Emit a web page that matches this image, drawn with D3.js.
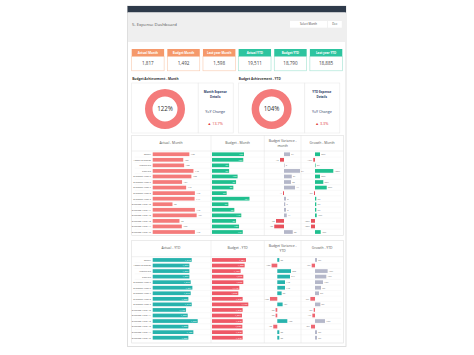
<!DOCTYPE html>
<html><head><meta charset="utf-8">
<script src="https://cdn.jsdelivr.net/npm/d3@7/dist/d3.min.js"></script>
<style>body{margin:0;background:#fff}svg{display:block;font-family:'Open Sans',sans-serif}</style>
</head><body><svg id="c" width="474" height="355"></svg>
<script>
const categories = ["Salary","Home Expense","Marketing","Renting","Expense Item 5","Expense Item 6","Expense Item 7","Expense Item 8","Expense Item 9","Expense Item 10","Expense Item 11","Expense Item 12","Expense Item 13","Expense Item 14","Expense Item 15"];
const cardLabels = ["Actual Month","Budget Month","Last year Month","Actual YTD","Budget YTD","Last year YTD"];
const cardValues = [1817,1492,1598,19511,18790,18885];
const actualMonth = [126,105,108,140,133,101,115,145,144,68,145,151,92,100,145];
const budgetMonth = [129,126,69,69,103,97,86,59,151,66,90,118,97,109,124];
const varianceMonth = [24,-16,2,64,31,28,44,-4,8,5,8,11,-32,-39,35];
const growthMonth = [35,-12,2,128,35,58,82,-7,9,9,9,12,-28,-28,40];
const actualYTD = [1348,1267,1267,1267,1313,1371,1313,1232,1348,1152,1209,1555,1232,1405,1232];
const budgetYTD = [1384,1330,1167,1276,1276,1113,1072,1248,1479,1248,1221,1248,1235,1248,1248];
const varianceYTD = [38,-108,260,241,146,146,82,-139,101,-32,-32,190,-76,38,38];
const growthYTD = [3,-5,19,17,12,9,6,-7,8,-2,-4,15,-6,3,3];

const svg = d3.select("#c");
const fmt = d3.format(",");

// outer frame
svg.append("rect").attr("x",127.5).attr("y",6).attr("width",218.5).attr("height",340.5).attr("fill","#fff").attr("stroke","#d6d6d6").attr("stroke-width",0.8);
svg.append("rect").attr("x",127.5).attr("y",6).attr("width",218.5).attr("height",6.5).attr("fill","#2e3a4a");
svg.append("rect").attr("x",128).attr("y",12.5).attr("width",217.5).attr("height",29.5).attr("fill","#efefef");
svg.append("text").attr("x",132).attr("y",25.8).attr("font-size",4.3).attr("fill","#555").text("5. Expense Dashboard");
svg.append("rect").attr("x",290).attr("y",21).attr("width",37).attr("height",6.7).attr("fill","#fff");
svg.append("rect").attr("x",327.8).attr("y",21).attr("width",14).attr("height",6.7).attr("fill","#fff");
svg.append("text").attr("x",308.5).attr("y",25.4).attr("font-size",2.8).attr("text-anchor","middle").attr("fill","#444").text("Select Month");
svg.append("text").attr("x",334.8).attr("y",25.4).attr("font-size",2.8).attr("text-anchor","middle").attr("fill","#444").text("Dec");

// KPI cards
const cardX = d3.scaleBand().domain(cardLabels).range([131.7, 342.3]).paddingInner(0.09);
cardLabels.forEach((lab,i)=>{
  const x = cardX(lab), w = cardX.bandwidth();
  const head = i<3 ? "#f5996b" : "#2dc49f";
  const edge = i<3 ? "#f9c9ad" : "#9fe2d0";
  svg.append("rect").attr("x",x).attr("y",56.3).attr("width",w).attr("height",14.5).attr("fill","#fff").attr("stroke",edge).attr("stroke-width",0.6);
  svg.append("rect").attr("x",x).attr("y",49).attr("width",w).attr("height",7.3).attr("fill",head);
  svg.append("text").attr("x",x+w/2).attr("y",53.8).attr("font-size",3).attr("font-weight","bold").attr("text-anchor","middle").attr("fill","#fff").text(lab);
  svg.append("text").attr("x",x+w/2).attr("y",65.3).attr("font-size",4.6).attr("text-anchor","middle").attr("fill","#444").text(fmt(cardValues[i]));
});

// Donuts
const donuts = [
  {title:"Budget Achievement - Month", x:131.7, det:["Month Expense","Details"], a:cardValues[0], b:cardValues[1], ly:cardValues[2]},
  {title:"Budget Achievement - YTD", x:238.3, det:["YTD Expense","Details"], a:cardValues[3], b:cardValues[4], ly:cardValues[5]}
];
const arc = d3.arc().innerRadius(12.5).outerRadius(20);
const pie = d3.pie().sort(null);
donuts.forEach(d=>{
  svg.append("text").attr("x",d.x+0.5).attr("y",80).attr("font-size",3.2).attr("font-weight","bold").attr("fill","#333").text(d.title);
  svg.append("rect").attr("x",d.x).attr("y",83).attr("width",66.5).attr("height",50).attr("fill","#fff").attr("stroke","#eaeaea").attr("stroke-width",0.6);
  svg.append("rect").attr("x",d.x+66.5).attr("y",83).attr("width",35).attr("height",50).attr("fill","#fff").attr("stroke","#eaeaea").attr("stroke-width",0.6);
  const ach = d.a/d.b;
  const g = svg.append("g").attr("transform",`translate(${d.x+33.3},109)`);
  g.selectAll("path").data(pie([Math.min(ach,1), 1-Math.min(ach,1)])).join("path")
    .attr("d",arc).attr("fill",(p,i)=> i===0 ? "#f47b7b" : "#eeeeee");
  g.append("text").attr("y",2.2).attr("font-size",6.2).attr("text-anchor","middle").attr("fill","#333").text(Math.round(ach*100)+"%");
  const cx = d.x+83.5;
  svg.append("text").attr("x",cx).attr("y",92.5).attr("font-size",3).attr("font-weight","bold").attr("text-anchor","middle").attr("fill","#1f3864").text(d.det[0]);
  svg.append("text").attr("x",cx).attr("y",97.8).attr("font-size",3).attr("font-weight","bold").attr("text-anchor","middle").attr("fill","#1f3864").text(d.det[1]);
  svg.append("text").attr("x",cx).attr("y",113.3).attr("font-size",3.6).attr("text-anchor","middle").attr("fill","#1f3864").text("YoY Change");
  const yoy = (d.a/d.ly-1)*100;
  svg.append("text").attr("x",cx).attr("y",125.2).attr("font-size",3.8).attr("text-anchor","middle").attr("fill","#e03c3c").text("\u25B2 "+yoy.toFixed(1)+"%");
});

// Tables
const colEdges = [131.7, 211, 264.3, 301, 343.3];
function table(top, bottom, headTitles, rowTop, data){
  svg.append("rect").attr("x",colEdges[0]).attr("y",top).attr("width",colEdges[4]-colEdges[0]).attr("height",bottom-top)
    .attr("fill","#fff").attr("stroke","#dedede").attr("stroke-width",0.6);
  colEdges.slice(1,4).forEach(x=>svg.append("line").attr("x1",x).attr("x2",x).attr("y1",top).attr("y2",bottom).attr("stroke","#e2e2e2").attr("stroke-width",0.5));
  const y = d3.scaleBand().domain(categories).range([rowTop, rowTop+15*5.55]).paddingInner(0.33).paddingOuter(0.16);
  svg.append("line").attr("x1",colEdges[0]).attr("x2",colEdges[4]).attr("y1",rowTop-0.5).attr("y2",rowTop-0.5).attr("stroke","#e2e2e2").attr("stroke-width",0.5);
  categories.forEach((c,i)=>{
    const yy = rowTop + (i+1)*5.55;
    if(i<14) svg.append("line").attr("x1",colEdges[0]+3).attr("x2",colEdges[4]-2).attr("y1",yy).attr("y2",yy).attr("stroke","#f0f0f0").attr("stroke-width",0.4);
  });
  // headers
  headTitles.forEach((h,i)=>{
    const cx = i===0 ? 171 : (colEdges[i]+colEdges[i+1])/2;
    const lines = Array.isArray(h) ? h : [h];
    lines.forEach((t,j)=>svg.append("text").attr("x",cx).attr("y", top + (lines.length>1 ? 6.7+j*4.6 : 8.6)).attr("font-size",3.4).attr("text-anchor","middle").attr("fill","#555").text(t));
  });
  // labels
  svg.append("g").selectAll("text").data(categories).join("text")
    .attr("x",151).attr("y",c=>y(c)+y.bandwidth()/2+0.9).attr("font-size",2.5).attr("text-anchor","end").attr("fill","#555").text(c=>c);
  return y;
}
function hbars(y, vals, x0, x1, max, color, labelInside, f){
  const x = d3.scaleLinear().domain([0,max]).range([x0,x1]);
  const g = svg.append("g");
  g.selectAll("rect").data(vals).join("rect")
    .attr("x",x(0)).attr("y",(v,i)=>y(categories[i])).attr("width",v=>x(v)-x(0)).attr("height",y.bandwidth()).attr("fill",color);
  g.selectAll("text").data(vals).join("text")
    .attr("x",v=> labelInside ? x(v)-1 : x(v)+1.5).attr("y",(v,i)=>y(categories[i])+y.bandwidth()/2+0.85)
    .attr("font-size",2.3).attr("text-anchor",labelInside?"end":"start").attr("fill",labelInside?"#fff":"#666").text(f);
}
function dbars(y, vals, dom, rng, pos, neg, f){
  const x = d3.scaleLinear().domain(dom).range(rng);
  const g = svg.append("g");
  g.selectAll("rect").data(vals).join("rect")
    .attr("x",v=>Math.min(x(0),x(v))).attr("y",(v,i)=>y(categories[i])).attr("width",v=>Math.max(0.6,Math.abs(x(v)-x(0)))).attr("height",y.bandwidth())
    .attr("fill",v=>v<0?neg:pos);
  g.selectAll("text").data(vals).join("text")
    .attr("x",v=> v<0 ? Math.min(x(v),x(0)-0.6)-1.2 : Math.max(x(v),x(0)+0.6)+1.2).attr("y",(v,i)=>y(categories[i])+y.bandwidth()/2+0.85)
    .attr("font-size",2.2).attr("text-anchor",v=>v<0?"end":"start").attr("fill","#666").text(f);
}

const yU = table(135.3, 235.5, ["Actual - Month","Budget - Month",["Budget Variance -","month"],"Growth - Month"], 151.5);
hbars(yU, actualMonth, 152.7, 200.7, 165, "#f47b7b", false, v=>v);
hbars(yU, budgetMonth, 212, 251.7, 160, "#1fbf8e", true, v=>v);
dbars(yU, varianceMonth, [-40,64], [274,300], "#b4b7c9", "#e8505b", v=>v);
dbars(yU, growthMonth, [-30,130], [310.7,333.6], "#1fbf8e", "#e8505b", v=>v+"%");

const yL = table(240.5, 343, ["Actual - YTD","Budget - YTD",["Budget Variance -","YTD"],"Growth - YTD"], 257.2);
hbars(yL, actualYTD, 152.7, 197.7, 1555, "#27b3ad", true, fmt);
hbars(yL, budgetYTD, 212, 248.3, 1479, "#ee5866", true, fmt);
dbars(yL, varianceYTD, [-140,260], [269.9,291], "#27b3ad", "#ee6671", v=>v);
dbars(yL, growthYTD, [-8,20], [309.7,328.3], "#b4b7c9", "#ee6671", v=>v+"%");
</script></body></html>
